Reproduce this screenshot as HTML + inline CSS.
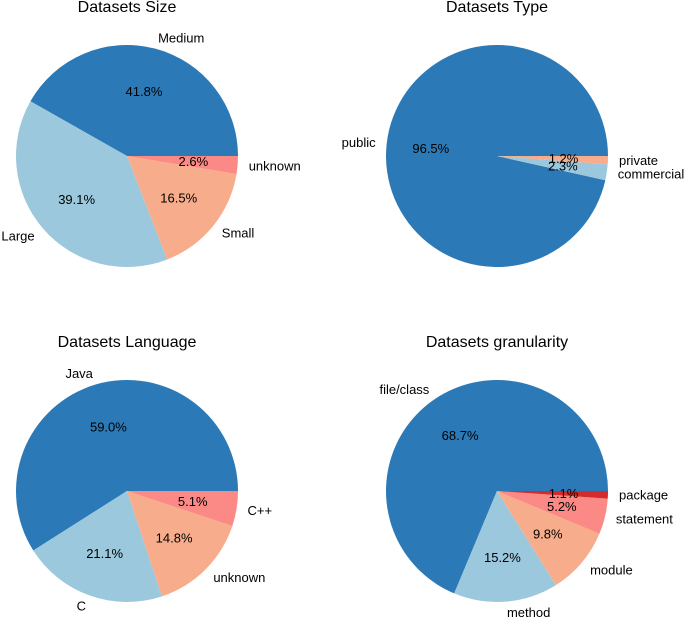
<!DOCTYPE html>
<html><head><meta charset="utf-8">
<style>
html,body{margin:0;padding:0;background:#fff;}
svg{display:block;font-family:"Liberation Sans",Arial,sans-serif;}
</style></head>
<body>
<svg id="chart" width="685" height="618" viewBox="0 0 685 618"></svg>
<script>
const sizeLabels=["Medium","Large","Small","unknown"];
const sizeValues=[41.8,39.1,16.5,2.6];
const typeLabels=["public","commercial","private"];
const typeValues=[96.5,2.3,1.2];
const langLabels=["Java","C","unknown","C++"];
const langValues=[59.0,21.1,14.8,5.1];
const granLabels=["file/class","method","module","statement","package"];
const granValues=[68.7,15.2,9.8,5.2,1.1];
const titles=["Datasets Size","Datasets Type","Datasets Language","Datasets granularity"];

const COLORS=["#2b79b6","#9bc8dc","#f7ad8c","#fb8985","#d62b2b"];
const typeColors=["#2b79b6","#9bc8dc","#f7ad8c"];
const NS="http://www.w3.org/2000/svg";
const svg=document.getElementById("chart");
function mk(tag,attrs,parent){const e=document.createElementNS(NS,tag);for(const k in attrs)e.setAttribute(k,attrs[k]);(parent||svg).appendChild(e);return e;}

function drawPie(cx,cy,r,title,labels,values,colors,slug){
  const g=mk("g",{});
  
  
  const t=mk("text",{x:cx,y:cy-144,"text-anchor":"middle","font-size":16,fill:"#000"},g);
  t.textContent=title;
  
  
  const total=values.reduce((a,b)=>a+b,0);
  let a0=0;
  values.forEach((v,i)=>{
    const sweep=v/total*360;
    const a1=a0+sweep;
    const r0=a0*Math.PI/180,r1=a1*Math.PI/180;
    const x0=cx+r*Math.cos(r0),y0=cy-r*Math.sin(r0);
    const x1=cx+r*Math.cos(r1),y1=cy-r*Math.sin(r1);
    const large=sweep>180?1:0;
    const p=mk("path",{d:`M${cx},${cy} L${x0},${y0} A${r},${r} 0 ${large} 0 ${x1},${y1} Z`,fill:colors[i%colors.length]},g);
    
    
    const mid=(a0+sweep/2)*Math.PI/180;
    const lx=cx+1.1*r*Math.cos(mid),ly=cy-1.1*r*Math.sin(mid);
    const lt=mk("text",{x:lx,y:ly+4.5,"text-anchor":Math.cos(mid)>=0?"start":"end","font-size":13,fill:"#000"},g);
    lt.textContent=labels[i];
    
    
    const px=cx+0.6*r*Math.cos(mid),py=cy-0.6*r*Math.sin(mid);
    const pt=mk("text",{x:px,y:py+4.5,"text-anchor":"middle","font-size":13,fill:"#000"},g);
    pt.textContent=(v/total*100).toFixed(1)+"%";
    
    
    a0=a1;
  });
}
drawPie(127,156,111,titles[0],sizeLabels,sizeValues,COLORS,"size");
drawPie(497,156,111,titles[1],typeLabels,typeValues,typeColors,"type");
drawPie(127,491,111,titles[2],langLabels,langValues,COLORS,"language");
drawPie(497,491,111,titles[3],granLabels,granValues,COLORS,"granularity");
</script>
</body></html>
